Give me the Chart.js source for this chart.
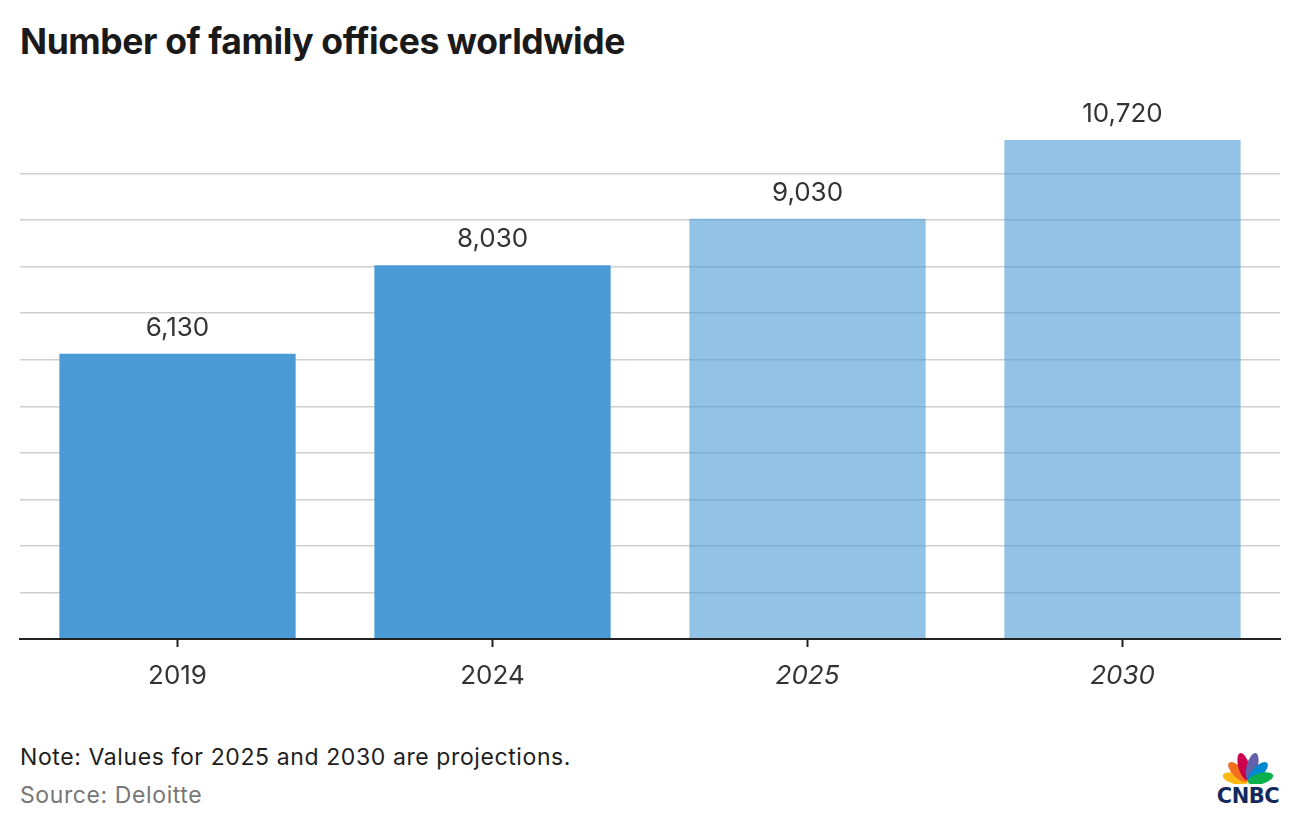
<!DOCTYPE html>
<html>
<head>
<meta charset="utf-8">
<script src="https://cdn.jsdelivr.net/npm/chart.js@4"></script>
<style>
  html, body { margin: 0; padding: 0; background: #fff; }
  body { width: 1300px; height: 832px; position: relative; font-family: Inter, "Noto Sans", sans-serif; }
  #title { position: absolute; left: 20px; top: 24px; font-size: 35.5px; line-height: 36px; font-weight: 700; color: #1a1a1a; letter-spacing: -0.4px; white-space: nowrap; }
  #chartBox { position: absolute; left: 0; top: 80px; width: 1300px; height: 629px; }
  #note { position: absolute; left: 20px; top: 746px; font-size: 23px; line-height: 23px; letter-spacing: 0.6px; color: #1e1e1e; white-space: nowrap; }
  #source { position: absolute; left: 20px; top: 784px; font-size: 23px; line-height: 23px; letter-spacing: 0.6px; color: #777; }
  #logo { position: absolute; left: 1213px; top: 749px; width: 70px; height: 60px; }
  #logo .word { position: absolute; left: 0; top: 35px; width: 70px; text-align: center; font-size: 21px; font-weight: 900; color: #13295e; font-family: "DejaVu Sans", sans-serif; letter-spacing: -0.5px; }
</style>
</head>
<body>
<div id="title">Number of family offices worldwide</div>
<div id="chartBox"><canvas id="chart"></canvas></div>
<div id="note">Note: Values for 2025 and 2030 are projections.</div>
<div id="source">Source: Deloitte</div>
<div id="logo">
  <svg width="70" height="35" viewBox="0 0 70 35">
    <g transform="translate(35,33)">
      <ellipse cx="0" cy="-13" rx="5.5" ry="13" fill="#fcb711" transform="rotate(-75)"/>
      <ellipse cx="0" cy="-14" rx="5.5" ry="13" fill="#f37021" transform="rotate(-45)"/>
      <ellipse cx="0" cy="-16" rx="5.5" ry="14" fill="#cc004c" transform="rotate(-15)"/>
      <ellipse cx="0" cy="-16" rx="5.5" ry="14" fill="#6460aa" transform="rotate(15)"/>
      <ellipse cx="0" cy="-14" rx="5.5" ry="13" fill="#0089d0" transform="rotate(45)"/>
      <ellipse cx="0" cy="-13" rx="5.5" ry="13" fill="#0db14b" transform="rotate(75)"/>
    </g>
  </svg>
  <div class="word">CNBC</div>
</div>
<script>
// data
const years = ["2019", "2024", "2025", "2030"];
const offices = [6130, 8030, 9030, 10720];
const projected = [false, false, true, true];

const solidBlue = "#4a9ad6";
const lightBlue = "rgba(74, 154, 214, 0.6)";
const fontFamily = "Inter, 'Noto Sans', sans-serif";

// draws the value above each bar
const valueLabels = {
  id: "valueLabels",
  afterDatasetsDraw(chart) {
    const ctx = chart.ctx;
    const meta = chart.getDatasetMeta(0);
    ctx.save();
    ctx.font = "26px " + fontFamily;
    ctx.fillStyle = "#333";
    ctx.textAlign = "center";
    ctx.textBaseline = "alphabetic";
    meta.data.forEach((bar, i) => {
      ctx.fillText(offices[i].toLocaleString("en-US"), bar.x, bar.y - 18);
    });
    ctx.restore();
  }
};

new Chart(document.getElementById("chart"), {
  type: "bar",
  data: {
    labels: years,
    datasets: [{
      data: offices,
      backgroundColor: projected.map(p => p ? lightBlue : solidBlue),
      barPercentage: 0.75,
      categoryPercentage: 1,
      borderWidth: 0
    }]
  },
  options: {
    responsive: true,
    maintainAspectRatio: false,
    animation: false,
    layout: { padding: { left: 20, right: 20, top: 47, bottom: 0 } },
    plugins: { legend: { display: false }, tooltip: { enabled: false } },
    scales: {
      x: {
        grid: {
          display: true,
          drawOnChartArea: false,
          drawTicks: true,
          tickLength: 8,
          tickColor: "#222",
          tickWidth: 2,
          offset: false
        },
        border: { color: "#222", width: 2, z: 1 },
        ticks: {
          color: "#333",
          padding: 14,
          font: (ctx) => ({
            family: fontFamily,
            size: 26,
            style: projected[ctx.index] ? "italic" : "normal"
          })
        },
        afterFit: (scale) => { scale.height = 70; }
      },
      y: {
        display: true,
        min: 0,
        max: 11000,
        ticks: { display: false, stepSize: 1000 },
        border: { display: false },
        grid: {
          drawTicks: false,
          color: (ctx) => (ctx.tick.value === 0 || ctx.tick.value === 11000) ? "rgba(0,0,0,0)" : "#cfcfcf",
          lineWidth: 1.5
        },
        afterFit: (scale) => { scale.width = 0; }
      }
    }
  },
  plugins: [valueLabels]
});
</script>
</body>
</html>
